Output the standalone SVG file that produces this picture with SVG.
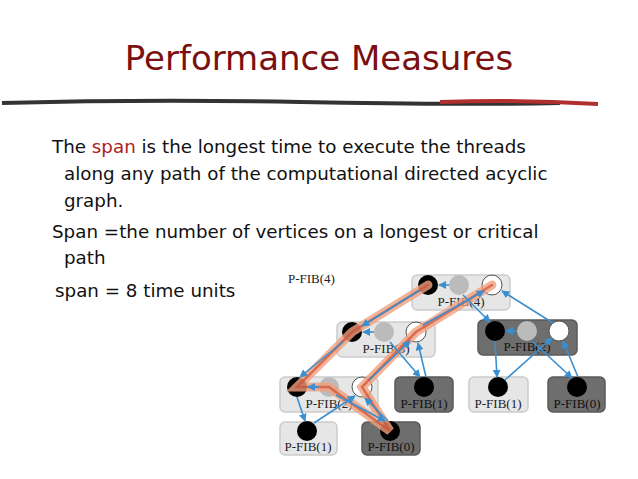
<svg xmlns="http://www.w3.org/2000/svg" width="638" height="479" viewBox="0 0 638 479">
<defs>
<style>
.t{font-family:"DejaVu Sans",sans-serif;font-size:18.3px;fill:#111}
.lb{font-family:"Liberation Serif",serif;font-size:13px;fill:#222}
.lbd{font-family:"Liberation Serif",serif;font-size:13px;fill:#111}
.lt{fill:#e6e6e6;stroke:#ccc;stroke-width:1.5}
.dk{fill:#6e6e6e;stroke:#5a5a5a;stroke-width:1.5}
.b{fill:#000}
.g{fill:#bbb}
.w{fill:#fff;stroke:#555;stroke-width:1}
.e{stroke:#3a8fd0;stroke-width:1.6;fill:none;marker-end:url(#a)}
.h{stroke:#f0a080;stroke-width:9;fill:none;stroke-linecap:round;opacity:0.8}
.h2{stroke:#d05030;stroke-width:2.5;fill:none;stroke-linecap:round;opacity:0.7}
</style>
<marker id="a" viewBox="0 0 10 10" refX="9" refY="5" markerWidth="5" markerHeight="5" orient="auto"><path d="M0 0L10 5L0 10z" fill="#3a8fd0"/></marker>
</defs>
<rect width="638" height="479" fill="#fff"/>
<text x="319" y="70" text-anchor="middle" font-family="DejaVu Sans,sans-serif" font-size="34" fill="#7a1010">Performance Measures</text>
<path d="M2 103 Q150 99 300 102 T560 103" stroke="#333" stroke-width="4" fill="none"/>
<path d="M440 102 Q520 99 598 104" stroke="#b03030" stroke-width="4" fill="none"/>
<text class="t" x="52" y="153">The <tspan fill="#b02020">span</tspan> is the longest time to execute the threads</text>
<text class="t" x="64" y="180">along any path of the computational directed acyclic</text>
<text class="t" x="64" y="207">graph.</text>
<text class="t" x="52" y="238">Span =the number of vertices on a longest or critical</text>
<text class="t" x="64" y="264">path</text>
<text class="t" x="55" y="297">span = 8 time units</text>
<rect x="275" y="266" width="342" height="194" fill="#fff"/>
<text class="lb" x="288" y="283" fill="#888">P-FIB(4)</text>
<g id="n4"><rect class="lt" x="412" y="275" width="98" height="35" rx="5"/><circle class="b" cx="428" cy="285" r="10"/><circle class="g" cx="459" cy="285" r="10"/><circle class="w" cx="492" cy="285" r="10"/><text class="lb" x="461" y="306" text-anchor="middle">P-FIB(4)</text></g>
<g id="n3"><rect class="lt" x="337" y="322" width="98" height="35" rx="5"/><circle class="b" cx="352" cy="332" r="10"/><circle class="g" cx="384" cy="332" r="10"/><circle class="w" cx="416" cy="332" r="10"/><text class="lb" x="386" y="353" text-anchor="middle">P-FIB(3)</text></g>
<g id="n2r"><rect class="dk" x="478" y="320" width="99" height="35" rx="5"/><circle class="b" cx="495" cy="331" r="10"/><circle class="g" cx="527" cy="331" r="10"/><circle class="w" cx="559" cy="331" r="10"/><text class="lbd" x="527" y="351" text-anchor="middle">P-FIB(2)</text></g>
<g id="n2l"><rect class="lt" x="280" y="377" width="98" height="35" rx="5"/><circle class="b" cx="297" cy="387" r="10"/><circle class="g" cx="329" cy="387" r="10"/><circle class="w" cx="362" cy="387" r="10"/><text class="lb" x="329" y="408" text-anchor="middle">P-FIB(2)</text></g>
<g id="n1m"><rect class="dk" x="395" y="377" width="58" height="35" rx="5"/><circle class="b" cx="424" cy="387" r="10"/><text class="lbd" x="424" y="408" text-anchor="middle">P-FIB(1)</text></g>
<g id="n1r"><rect class="lt" x="469" y="377" width="59" height="35" rx="5"/><circle class="b" cx="498" cy="387" r="10"/><text class="lb" x="498" y="408" text-anchor="middle">P-FIB(1)</text></g>
<g id="n0r"><rect class="dk" x="548" y="377" width="57" height="35" rx="5"/><circle class="b" cx="577" cy="387" r="10"/><text class="lbd" x="577" y="408" text-anchor="middle">P-FIB(0)</text></g>
<g id="n1b"><rect class="lt" x="280" y="422" width="57" height="33" rx="5"/><circle class="b" cx="307" cy="431" r="10"/><text class="lb" x="308" y="451" text-anchor="middle">P-FIB(1)</text></g>
<g id="n0b"><rect class="dk" x="362" y="422" width="58" height="33" rx="5"/><circle class="b" cx="390" cy="431" r="10"/><text class="lbd" x="391" y="451" text-anchor="middle">P-FIB(0)</text></g>
<g id="connectors">
<path class="h" d="M428 285L352 332L297 387L329 387L390 431L362 387L416 332L492 285"/>
<path class="h2" d="M428 285L352 332L297 387L329 387L390 431L362 387L416 332L492 285"/>
<line class="e" x1="449" y1="285" x2="439" y2="285"/>
<line class="e" x1="374" y1="332" x2="363" y2="332"/>
<line class="e" x1="319" y1="387" x2="308" y2="387"/>
<line class="e" x1="517" y1="331" x2="506" y2="331"/>
<line class="e" x1="420" y1="290" x2="362" y2="326"/>
<line class="e" x1="344" y1="341" x2="300" y2="377"/>
<line class="e" x1="463" y1="295" x2="490" y2="322"/>
<line class="e" x1="390" y1="342" x2="420" y2="377"/>
<line class="e" x1="297" y1="397" x2="305" y2="421"/>
<line class="e" x1="336" y1="395" x2="385" y2="421"/>
<line class="e" x1="495" y1="341" x2="497" y2="377"/>
<line class="e" x1="532" y1="341" x2="572" y2="378"/>
<line class="e" x1="314" y1="423" x2="355" y2="396"/>
<line class="e" x1="388" y1="421" x2="365" y2="398"/>
<line class="e" x1="426" y1="377" x2="418" y2="343"/>
<line class="e" x1="369" y1="380" x2="410" y2="341"/>
<line class="e" x1="505" y1="380" x2="552" y2="338"/>
<line class="e" x1="578" y1="377" x2="563" y2="341"/>
<line class="e" x1="553" y1="323" x2="502" y2="291"/>
<line class="e" x1="423" y1="325" x2="484" y2="291"/>
</g>
</svg>
